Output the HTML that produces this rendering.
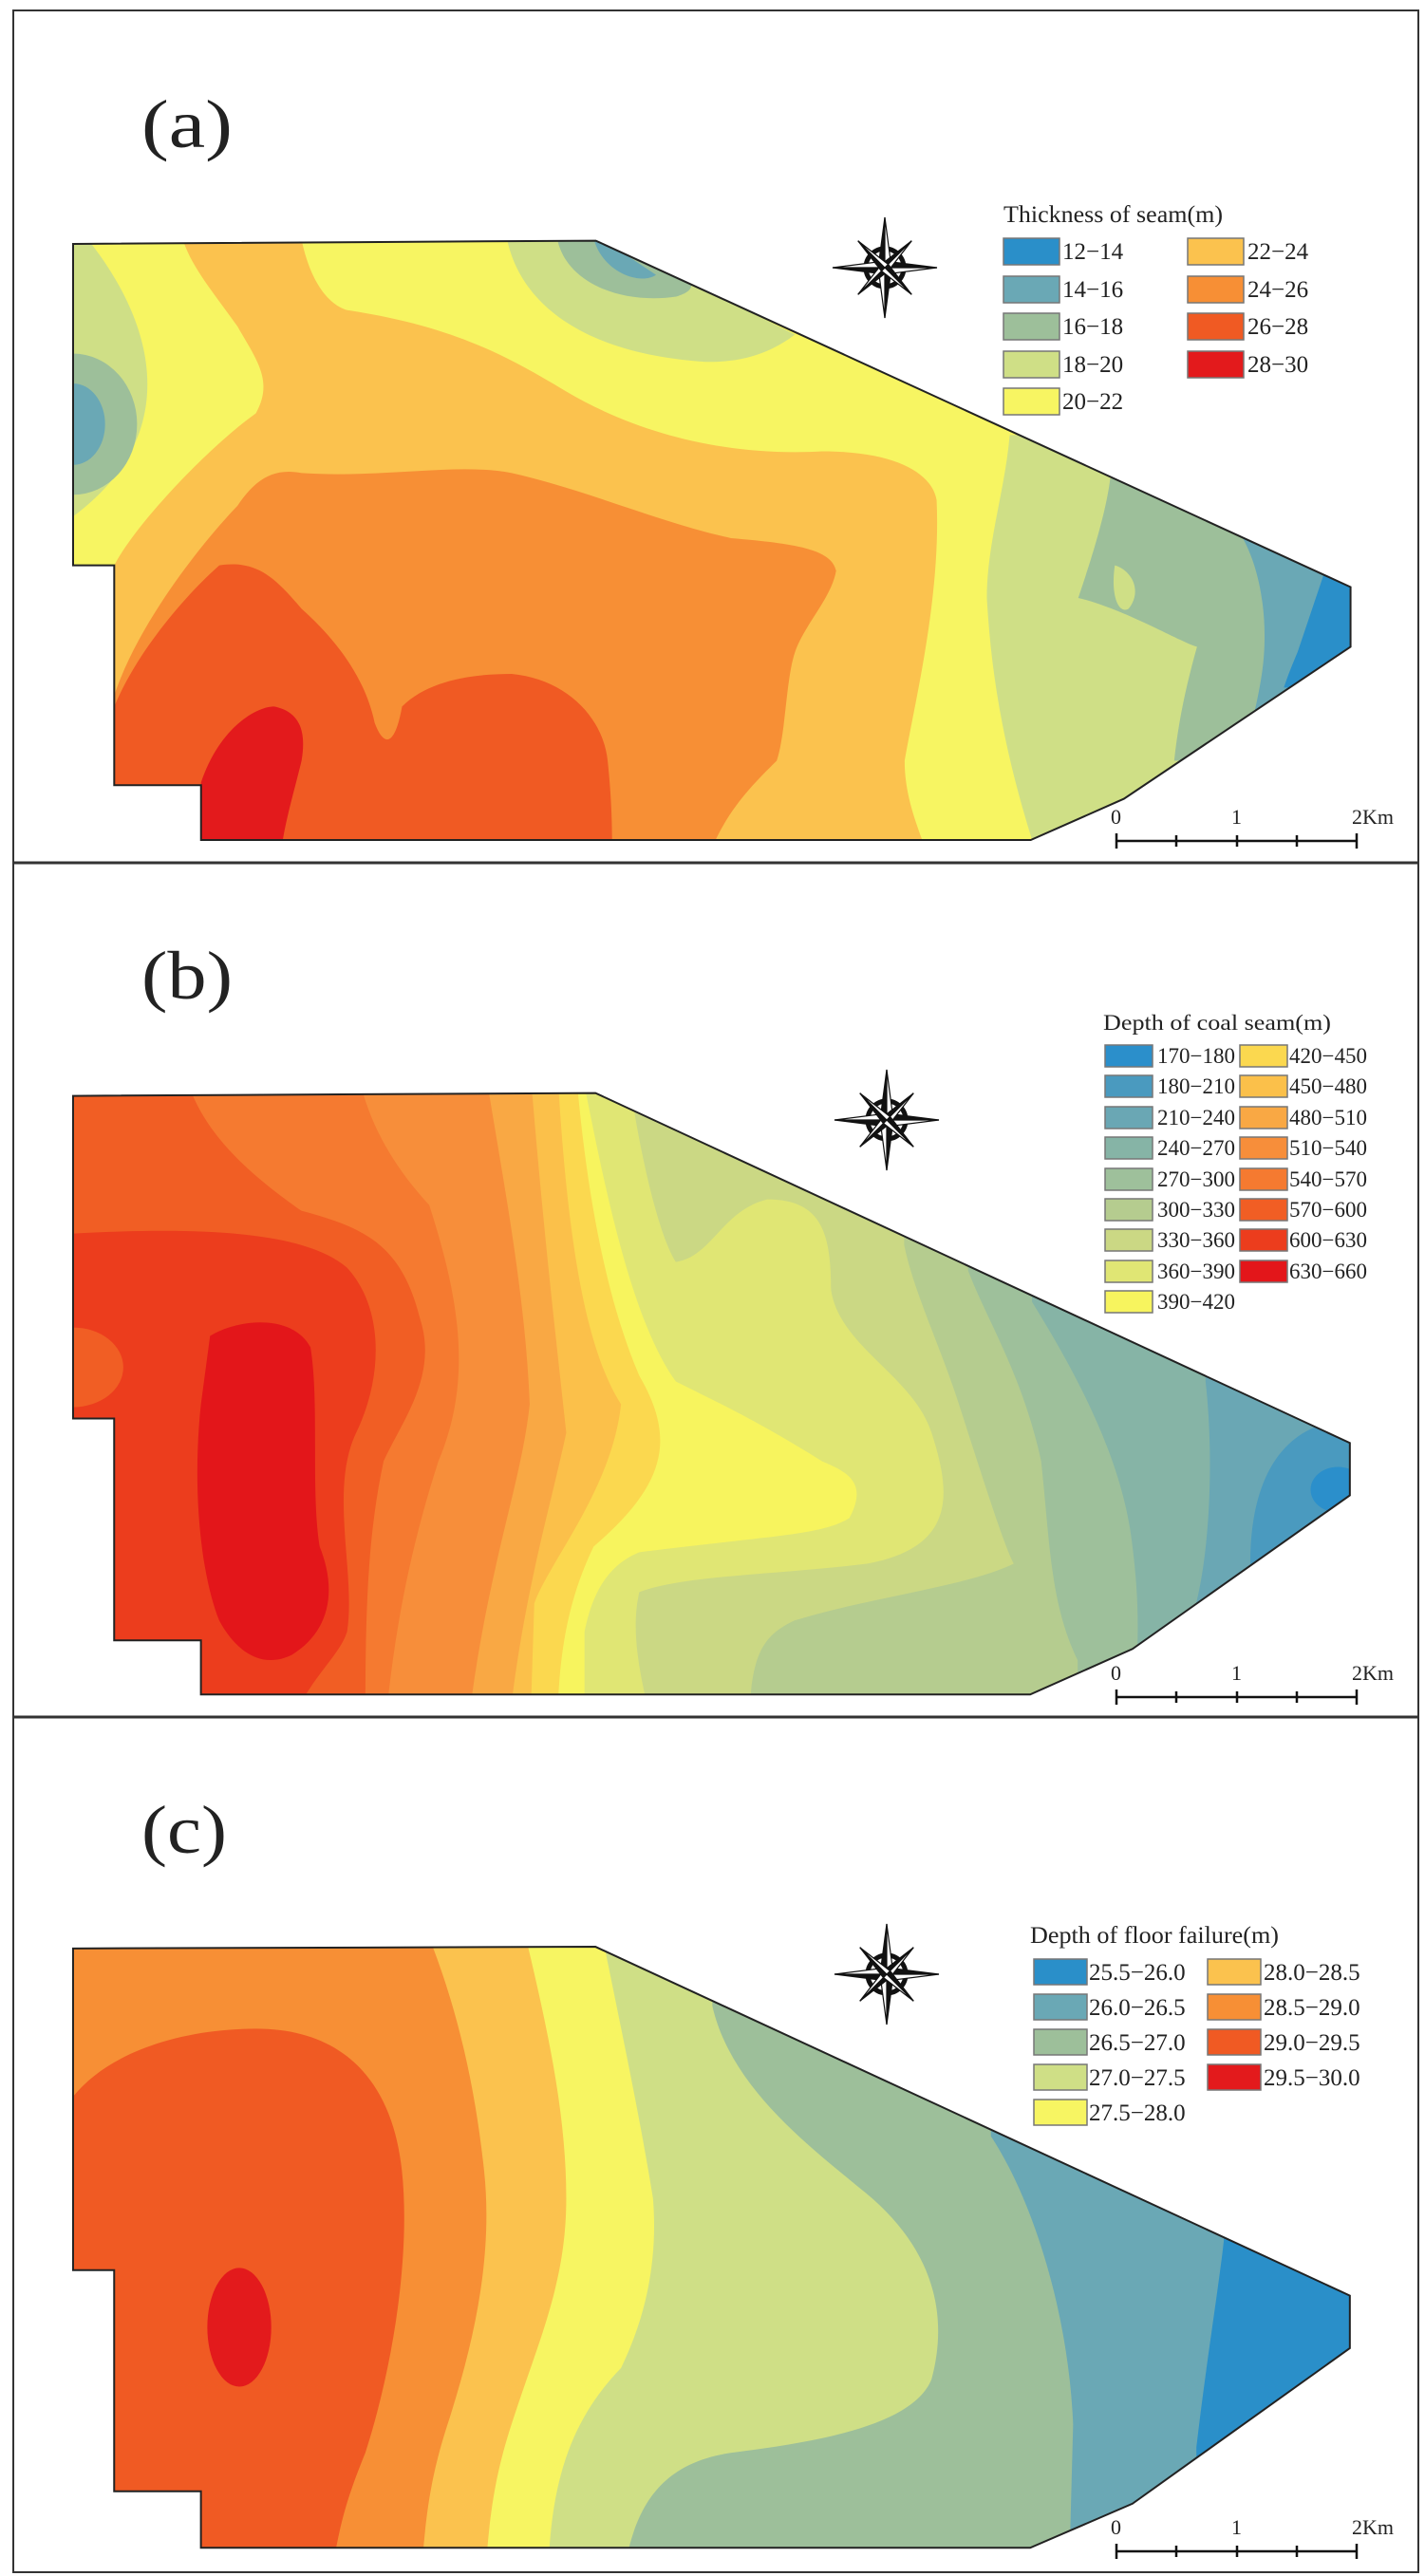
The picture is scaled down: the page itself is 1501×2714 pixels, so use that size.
<!DOCTYPE html>
<html><head><meta charset="utf-8">
<style>
html,body{margin:0;padding:0;background:#fff;}
svg{display:block;}
text{font-family:"Liberation Serif",serif;fill:#222;}
</style></head>
<body>
<svg width="1501" height="2714" viewBox="0 0 1501 2714" xmlns="http://www.w3.org/2000/svg">
<defs>
<g id="comp">
  <circle cx="0" cy="0" r="20" fill="none" stroke="#111" stroke-width="5"/>
  <g stroke="#111" stroke-width="1.2">
    <polygon points="0,-53 -7,0 0,0" fill="#111"/><polygon points="0,-53 7,0 0,0" fill="#fff"/>
    <polygon points="0,53 7,0 0,0" fill="#111"/><polygon points="0,53 -7,0 0,0" fill="#fff"/>
    <polygon points="55,0 0,-7 0,0" fill="#111"/><polygon points="55,0 0,7 0,0" fill="#fff"/>
    <polygon points="-55,0 0,7 0,0" fill="#111"/><polygon points="-55,0 0,-7 0,0" fill="#fff"/>
    <g transform="rotate(45)">
      <polygon points="0,-40 -5,0 0,0" fill="#111"/><polygon points="0,-40 5,0 0,0" fill="#fff"/>
      <polygon points="0,40 5,0 0,0" fill="#111"/><polygon points="0,40 -5,0 0,0" fill="#fff"/>
      <polygon points="40,0 0,-5 0,0" fill="#111"/><polygon points="40,0 0,5 0,0" fill="#fff"/>
      <polygon points="-40,0 0,5 0,0" fill="#111"/><polygon points="-40,0 0,-5 0,0" fill="#fff"/>
    </g>
  </g>
</g>
<clipPath id="ca"><path d="M80,448 L652,442 L1478,1080 L1478,1190 L1230,1470 L1128,1546 L220,1546 L220,1445 L125,1445 L125,1040 L80,1040 Z"/></clipPath>
<clipPath id="cb"><path d="M80,458 L652,453 L1478,1068 L1478,1160 L1240,1430 L1128,1510 L220,1510 L220,1415 L125,1415 L125,1025 L80,1025 Z"/></clipPath>
<clipPath id="cc"><path d="M80,458 L652,455 L1478,1072 L1478,1165 L1240,1440 L1128,1518 L220,1518 L220,1418 L125,1418 L125,1027 L80,1027 Z"/></clipPath>
</defs>

<!-- frame -->
<rect x="14" y="11" width="1480" height="2699" fill="none" stroke="#333" stroke-width="2"/>
<line x1="14" y1="909" x2="1494" y2="909" stroke="#333" stroke-width="3"/>
<line x1="14" y1="1809" x2="1494" y2="1809" stroke="#333" stroke-width="3"/>

<!-- panel labels -->
<text x="149" y="155" font-size="72" textLength="96" lengthAdjust="spacingAndGlyphs">(a)</text>
<text x="149" y="1052" font-size="72" textLength="96" lengthAdjust="spacingAndGlyphs">(b)</text>
<text x="149" y="1952" font-size="72" textLength="90" lengthAdjust="spacingAndGlyphs">(c)</text>

<!-- ========== PANEL A ========== -->
<g transform="matrix(0.9625 0 0 0.572 0 0.74)">
 <g clip-path="url(#ca)">
  <rect x="0" y="400" width="1600" height="1200" fill="#f7f562"/>
  <path d="M80,448 L100,448 C170,600 200,800 80,950 Z" fill="#cfdf86"/>
  <ellipse cx="80" cy="780" rx="70" ry="130" fill="#9dbf9a"/>
  <ellipse cx="80" cy="780" rx="35" ry="75" fill="#6aa8b5"/>
  <path d="M555,440 C570,560 640,650 770,665 C820,668 850,640 870,615 L652,430 Z" fill="#cfdf86"/>
  <path d="M610,440 C620,520 680,560 740,545 C760,535 760,520 750,510 L652,430 Z" fill="#9dbf9a"/>
  <path d="M650,440 C660,500 700,525 718,505 L660,440 Z" fill="#6aa8b5"/>
  <path d="M200,440 L330,440 C340,520 360,560 380,570 C500,600 560,660 620,720 C700,800 800,840 900,830 C980,830 1020,870 1025,920 C1030,1100 1000,1300 990,1400 C990,1480 1010,1540 1020,1600 L125,1600 L125,1040 C150,960 230,820 280,760 C300,700 280,660 260,600 C230,530 210,490 200,440 Z" fill="#fbc24e"/>
  <path d="M125,1280 C150,1150 220,1000 260,930 C280,880 300,860 330,870 C420,880 500,850 560,870 C640,900 720,960 800,990 C870,1000 910,1010 915,1050 C910,1100 880,1150 870,1200 C860,1250 860,1350 850,1400 C820,1450 790,1500 770,1600 L125,1600 Z" fill="#f78f35"/>
  <path d="M125,1300 C150,1200 200,1100 240,1040 C280,1030 300,1060 330,1120 C370,1180 400,1250 410,1330 C420,1375 432,1375 440,1300 C470,1250 520,1240 560,1240 C620,1250 660,1320 665,1400 C670,1480 670,1530 670,1600 L125,1600 Z" fill="#f05a23"/>
  <path d="M220,1600 L220,1440 C240,1340 280,1300 300,1300 C330,1310 335,1350 330,1400 C320,1470 310,1520 305,1600 Z" fill="#e31a1c"/>
  <path d="M1105,800 C1100,900 1080,1000 1080,1100 C1085,1250 1100,1400 1140,1600 L1600,1600 L1600,800 Z" fill="#cfdf86"/>
  <path d="M1215,880 C1210,950 1190,1050 1180,1100 C1230,1120 1290,1180 1310,1190 C1300,1250 1290,1320 1285,1400 L1600,1400 L1600,880 Z" fill="#9dbf9a"/>
  <path d="M1220,1040 C1240,1050 1250,1090 1235,1120 C1225,1130 1215,1100 1220,1040 Z" fill="#cfdf86"/>
  <path d="M1360,990 C1380,1050 1390,1150 1380,1250 C1375,1300 1370,1330 1365,1360 L1600,1360 L1600,990 Z" fill="#6aa8b5"/>
  <path d="M1450,1050 C1440,1100 1430,1150 1420,1200 C1415,1220 1410,1240 1405,1265 L1600,1265 L1600,1050 Z" fill="#2a8fc9"/>
 </g>
 <path d="M80,448 L652,442 L1478,1080 L1478,1190 L1230,1470 L1128,1546 L220,1546 L220,1445 L125,1445 L125,1040 L80,1040 Z" fill="none" stroke="#222" stroke-width="2" vector-effect="non-scaling-stroke"/>
</g>

<!-- ========== PANEL B ========== -->
<g transform="matrix(0.962 0 0 0.5995 0 880)">
 <g clip-path="url(#cb)">
  <rect x="0" y="400" width="1600" height="1200" fill="#4a9abf"/>
  <path d="M1440,400 L1440,1040 C1380,1080 1365,1200 1370,1320 L1370,1600 L0,1600 L0,400 Z" fill="#6aa7b4"/>
  <path d="M1320,400 L1320,960 C1330,1100 1325,1300 1300,1400 L1290,1600 L0,1600 L0,400 Z" fill="#86b4a6"/>
  <path d="M1130,400 L1130,820 C1180,950 1230,1100 1240,1250 C1250,1380 1245,1440 1240,1600 L0,1600 L0,400 Z" fill="#9ec09b"/>
  <path d="M1060,400 L1060,765 C1080,850 1120,950 1140,1100 C1150,1250 1150,1350 1180,1450 L1180,1600 L0,1600 L0,400 Z" fill="#b5cc8f"/>
  <path d="M990,400 L990,720 C1000,800 1030,900 1050,1000 C1080,1150 1100,1250 1110,1280 C1060,1320 950,1340 870,1380 C830,1410 820,1450 820,1600 L0,1600 L0,400 Z" fill="#cbd884"/>
  <path d="M690,400 L690,440 C700,550 720,700 740,750 C780,740 790,660 840,640 C900,640 910,700 910,800 C920,900 1000,950 1020,1050 C1040,1150 1050,1250 950,1280 C850,1300 750,1300 700,1330 C690,1400 700,1480 720,1600 L0,1600 L0,400 Z" fill="#e0e674"/>
  <path d="M640,400 L640,440 C660,600 690,850 740,960 C790,1000 830,1030 900,1100 C930,1120 950,1140 930,1200 C900,1230 850,1230 700,1260 C670,1280 650,1320 640,1400 L640,1600 L0,1600 L0,400 Z" fill="#f7f45e"/>
  <path d="M630,400 C640,600 660,800 700,950 C740,1060 730,1140 650,1250 C620,1350 610,1450 610,1600 L0,1600 L0,400 Z" fill="#fbd84f"/>
  <path d="M610,400 C620,700 640,900 680,1000 C670,1150 600,1280 585,1350 L580,1600 L0,1600 L0,400 Z" fill="#fbc04a"/>
  <path d="M580,400 C595,700 610,900 620,1050 C600,1200 570,1350 555,1600 L0,1600 L0,400 Z" fill="#f9a844"/>
  <path d="M530,400 C550,600 575,800 580,1000 C570,1150 530,1300 510,1600 L0,1600 L0,400 Z" fill="#f78e3a"/>
  <path d="M390,400 C400,500 430,580 470,650 C500,800 520,950 480,1100 C450,1250 430,1400 420,1600 L0,1600 L0,400 Z" fill="#f57a30"/>
  <path d="M200,400 C210,480 240,560 330,660 C400,690 440,720 460,850 C480,950 440,1030 420,1100 C400,1250 400,1400 400,1600 L0,1600 L0,400 Z" fill="#f15e24"/>
  <path d="M80,700 C200,690 330,690 380,760 C420,830 420,950 390,1050 C360,1150 390,1300 380,1400 C370,1450 330,1490 310,1600 L0,1600 L0,700 Z" fill="#ec3d1d"/>
  <ellipse cx="80" cy="935" rx="55" ry="70" fill="#f15e24"/>
  <path d="M230,880 C260,850 320,840 340,900 C350,1000 340,1150 350,1250 C370,1330 360,1400 320,1440 C290,1465 260,1440 240,1380 C220,1300 210,1150 220,1000 Z" fill="#e3161a"/>
  <ellipse cx="1465" cy="1150" rx="30" ry="40" fill="#2b8fcb"/>
 </g>
 <path d="M80,458 L652,453 L1478,1068 L1478,1160 L1240,1430 L1128,1510 L220,1510 L220,1415 L125,1415 L125,1025 L80,1025 Z" fill="none" stroke="#222" stroke-width="2" vector-effect="non-scaling-stroke"/>
</g>

<!-- ========== PANEL C ========== -->
<g transform="matrix(0.962 0 0 0.5957 0 1780)">
 <g clip-path="url(#cc)">
  <rect x="0" y="400" width="1600" height="1200" fill="#2a8fc9"/>
  <path d="M1340,400 L1340,975 C1335,1050 1320,1200 1310,1340 L1310,1600 L0,1600 L0,400 Z" fill="#6aa8b5"/>
  <path d="M1085,400 L1085,790 C1130,900 1170,1100 1175,1300 L1170,1600 L0,1600 L0,400 Z" fill="#9dbf9a"/>
  <path d="M780,400 L780,560 C800,700 880,800 940,880 C1020,980 1040,1100 1020,1220 C1000,1300 900,1330 800,1350 C720,1370 690,1450 680,1600 L0,1600 L0,400 Z" fill="#cfdf86"/>
  <path d="M655,400 C680,600 700,750 715,900 C720,1000 710,1100 680,1200 C620,1300 600,1420 600,1600 L0,1600 L0,400 Z" fill="#f7f562"/>
  <path d="M570,400 C600,600 620,750 620,900 C620,1050 590,1150 560,1300 C540,1400 535,1470 530,1600 L0,1600 L0,400 Z" fill="#fbc24e"/>
  <path d="M460,400 C500,550 520,700 530,850 C540,1000 520,1150 490,1300 C470,1400 465,1470 460,1600 L0,1600 L0,400 Z" fill="#f78f35"/>
  <path d="M80,720 C120,640 200,600 280,600 C380,600 430,700 440,850 C450,1000 430,1200 400,1350 C380,1430 370,1480 360,1600 L0,1600 L0,720 Z" fill="#f05a23"/>
  <ellipse cx="262" cy="1128" rx="35" ry="105" fill="#e31a1c"/>
 </g>
 <path d="M80,458 L652,455 L1478,1072 L1478,1165 L1240,1440 L1128,1518 L220,1518 L220,1418 L125,1418 L125,1027 L80,1027 Z" fill="none" stroke="#222" stroke-width="2" vector-effect="non-scaling-stroke"/>
</g>

<!-- compasses -->
<use href="#comp" x="932" y="282"/>
<use href="#comp" x="934" y="1180"/>
<use href="#comp" x="934" y="2080"/>

<!-- scale bars -->
<g stroke="#111" stroke-width="2.5" fill="none">
  <path d="M1176,886 H1429 M1176,878 V894 M1239,880 V892 M1303,880 V892 M1366,880 V892 M1429,878 V894"/>
  <path d="M1176,1788 H1429 M1176,1780 V1796 M1239,1782 V1794 M1303,1782 V1794 M1366,1782 V1794 M1429,1780 V1796"/>
  <path d="M1176,2688 H1429 M1176,2680 V2696 M1239,2682 V2694 M1303,2682 V2694 M1366,2682 V2694 M1429,2680 V2696"/>
</g>
<g font-size="22">
  <text x="1170" y="868">0</text><text x="1297" y="868">1</text><text x="1424" y="868">2Km</text>
  <text x="1170" y="1770">0</text><text x="1297" y="1770">1</text><text x="1424" y="1770">2Km</text>
  <text x="1170" y="2670">0</text><text x="1297" y="2670">1</text><text x="1424" y="2670">2Km</text>
</g>

<!-- legend A -->
<g font-size="25">
  <text x="1057" y="234" textLength="231" lengthAdjust="spacingAndGlyphs">Thickness of seam(m)</text>
  <g stroke="#777" stroke-width="1.5">
    <rect x="1057" y="251" width="59" height="28" fill="#2a8fc9"/>
    <rect x="1057" y="291" width="59" height="28" fill="#6aa8b5"/>
    <rect x="1057" y="330" width="59" height="28" fill="#9dbf9a"/>
    <rect x="1057" y="370" width="59" height="28" fill="#cfdf86"/>
    <rect x="1057" y="409" width="59" height="28" fill="#f7f562"/>
    <rect x="1251" y="251" width="59" height="28" fill="#fbc24e"/>
    <rect x="1251" y="291" width="59" height="28" fill="#f78f35"/>
    <rect x="1251" y="330" width="59" height="28" fill="#f05a23"/>
    <rect x="1251" y="370" width="59" height="28" fill="#e31a1c"/>
  </g>
  <text x="1119" y="273">12−14</text><text x="1119" y="313">14−16</text><text x="1119" y="352">16−18</text><text x="1119" y="392">18−20</text><text x="1119" y="431">20−22</text>
  <text x="1314" y="273">22−24</text><text x="1314" y="313">24−26</text><text x="1314" y="352">26−28</text><text x="1314" y="392">28−30</text>
</g>

<!-- legend B -->
<g font-size="23">
  <text x="1162" y="1085" textLength="240" lengthAdjust="spacingAndGlyphs">Depth of coal seam(m)</text>
  <g stroke="#777" stroke-width="1.5">
    <rect x="1164" y="1101" width="50" height="23" fill="#2b8fcb"/>
    <rect x="1164" y="1133" width="50" height="23" fill="#4a9abf"/>
    <rect x="1164" y="1166" width="50" height="23" fill="#6aa7b4"/>
    <rect x="1164" y="1198" width="50" height="23" fill="#86b4a6"/>
    <rect x="1164" y="1231" width="50" height="23" fill="#9ec09b"/>
    <rect x="1164" y="1263" width="50" height="23" fill="#b5cc8f"/>
    <rect x="1164" y="1295" width="50" height="23" fill="#cbd884"/>
    <rect x="1164" y="1328" width="50" height="23" fill="#e0e674"/>
    <rect x="1164" y="1360" width="50" height="23" fill="#f7f45e"/>
    <rect x="1306" y="1101" width="50" height="23" fill="#fbd84f"/>
    <rect x="1306" y="1133" width="50" height="23" fill="#fbc04a"/>
    <rect x="1306" y="1166" width="50" height="23" fill="#f9a844"/>
    <rect x="1306" y="1198" width="50" height="23" fill="#f78e3a"/>
    <rect x="1306" y="1231" width="50" height="23" fill="#f57a30"/>
    <rect x="1306" y="1263" width="50" height="23" fill="#f15e24"/>
    <rect x="1306" y="1295" width="50" height="23" fill="#ec3d1d"/>
    <rect x="1306" y="1328" width="50" height="23" fill="#e3161a"/>
  </g>
  <g>
  <text x="1219" y="1120">170−180</text><text x="1219" y="1152">180−210</text><text x="1219" y="1185">210−240</text><text x="1219" y="1217">240−270</text><text x="1219" y="1250">270−300</text><text x="1219" y="1282">300−330</text><text x="1219" y="1314">330−360</text><text x="1219" y="1347">360−390</text><text x="1219" y="1379">390−420</text>
  <text x="1358" y="1120">420−450</text><text x="1358" y="1152">450−480</text><text x="1358" y="1185">480−510</text><text x="1358" y="1217">510−540</text><text x="1358" y="1250">540−570</text><text x="1358" y="1282">570−600</text><text x="1358" y="1314">600−630</text><text x="1358" y="1347">630−660</text>
  </g>
</g>

<!-- legend C -->
<g font-size="25">
  <text x="1085" y="2047" textLength="262" lengthAdjust="spacingAndGlyphs">Depth of floor failure(m)</text>
  <g stroke="#777" stroke-width="1.5">
    <rect x="1089" y="2064" width="56" height="27" fill="#2a8fc9"/>
    <rect x="1089" y="2101" width="56" height="27" fill="#6aa8b5"/>
    <rect x="1089" y="2138" width="56" height="27" fill="#9dbf9a"/>
    <rect x="1089" y="2175" width="56" height="27" fill="#cfdf86"/>
    <rect x="1089" y="2212" width="56" height="27" fill="#f7f562"/>
    <rect x="1272" y="2064" width="56" height="27" fill="#fbc24e"/>
    <rect x="1272" y="2101" width="56" height="27" fill="#f78f35"/>
    <rect x="1272" y="2138" width="56" height="27" fill="#f05a23"/>
    <rect x="1272" y="2175" width="56" height="27" fill="#e31a1c"/>
  </g>
  <text x="1147" y="2086">25.5−26.0</text><text x="1147" y="2123">26.0−26.5</text><text x="1147" y="2160">26.5−27.0</text><text x="1147" y="2197">27.0−27.5</text><text x="1147" y="2234">27.5−28.0</text>
  <text x="1331" y="2086">28.0−28.5</text><text x="1331" y="2123">28.5−29.0</text><text x="1331" y="2160">29.0−29.5</text><text x="1331" y="2197">29.5−30.0</text>
</g>
</svg>
</body></html>
